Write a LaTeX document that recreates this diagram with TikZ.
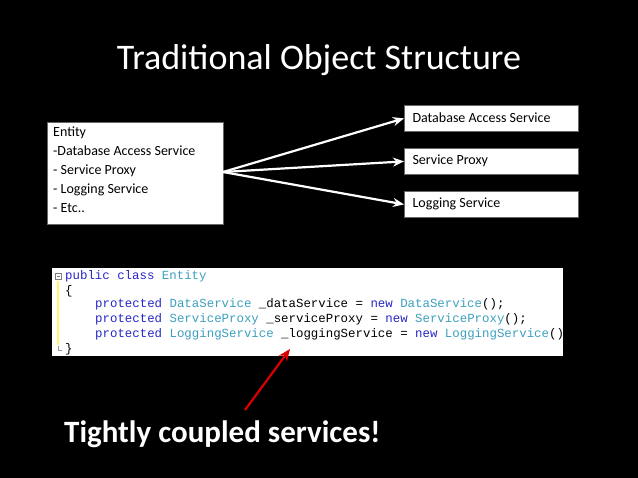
\documentclass[tikz,border=0pt]{standalone}
\usepackage{fontspec}
\setmainfont{Carlito}
\setmonofont{Liberation Mono}
\usetikzlibrary{arrows.meta}
\definecolor{kw}{RGB}{40,40,200}
\definecolor{ty}{RGB}{60,160,190}
\begin{document}
\begin{tikzpicture}[x=1pt,y=-1pt,
  wbox/.style={draw=black!60,fill=white,line width=0.8pt,anchor=north west,inner sep=0pt},
  lbl/.style={anchor=west,font=\fontsize{14}{16}\selectfont,text=black},
  arr/.style={white,line width=2.2pt,-{Stealth[length=11pt,width=9pt]}},
  code/.style={anchor=west,font=\ttfamily\fontsize{12.4}{14}\selectfont,inner sep=0pt}]
\fill[black] (0,0) rectangle (638,478);
\useasboundingbox (0,0) rectangle (638,478);
\node[text=white,font=\fontsize{36}{40}\selectfont] (title) at (319,60) {Traditional Object Structure};
\node[wbox,minimum width=176pt,minimum height=102pt] (ent) at (47,122) {};
\node[anchor=north west,align=left,text=black,font=\fontsize{14}{19}\selectfont,inner sep=0pt] (entt) at (53,127) {Entity\\-Database Access Service\\- Service Proxy\\- Logging Service\\- Etc..};
\node[wbox,minimum width=174pt,minimum height=26pt] (db) at (404,105) {};
\node[lbl] at (409,118) {Database Access Service};
\node[wbox,minimum width=174pt,minimum height=26pt] (sp) at (404,148) {};
\node[lbl] at (409,161) {Service Proxy};
\node[wbox,minimum width=174pt,minimum height=26pt] (ls) at (404,191) {};
\node[lbl] at (409,204) {Logging Service};
\coordinate (src) at (223,172);
\draw[arr] (src) -- (db.west);
\draw[arr] (src) -- (sp.west);
\draw[arr] (src) -- (ls.west);
\node[wbox,minimum width=511pt,minimum height=88pt,draw=none] (cb) at (52,268) {};
\draw[black!50,line width=0.5pt] (55,273) rectangle (61,279);
\draw[black!50,line width=0.5pt] (56.5,276)--(59.5,276);
\draw[yellow!60!white,line width=1.5pt] (58,281)--(58,345);
\draw[black!40,line width=0.5pt] (58,346)--(58,350)--(62,350);
\node[code] (c1) at (65,276) {\textcolor{kw}{public class} \textcolor{ty}{Entity}};
\node[code] (c2) at (65,291) {\{};
\node[code] (c3) at (95,304) {\textcolor{kw}{protected} \textcolor{ty}{DataService} \_dataService = \textcolor{kw}{new} \textcolor{ty}{DataService}();};
\node[code] (c4) at (95,319) {\textcolor{kw}{protected} \textcolor{ty}{ServiceProxy} \_serviceProxy = \textcolor{kw}{new} \textcolor{ty}{ServiceProxy}();};
\node[code] (c5) at (95,334) {\textcolor{kw}{protected} \textcolor{ty}{LoggingService} \_loggingService = \textcolor{kw}{new} \textcolor{ty}{LoggingService}();};
\node[code] (c6) at (65,349) {\}};
\coordinate (rs) at (245,410);
\coordinate (re) at (290,349);
\draw[red!85!black,line width=2.2pt,-{Stealth[length=12pt,width=10pt]}] (rs) -- (re);
\node[anchor=west,text=white,font=\bfseries\fontsize{31}{34}\selectfont,inner sep=0pt] (tc) at (64,434) {Tightly coupled services!};
\end{tikzpicture}
\end{document}
